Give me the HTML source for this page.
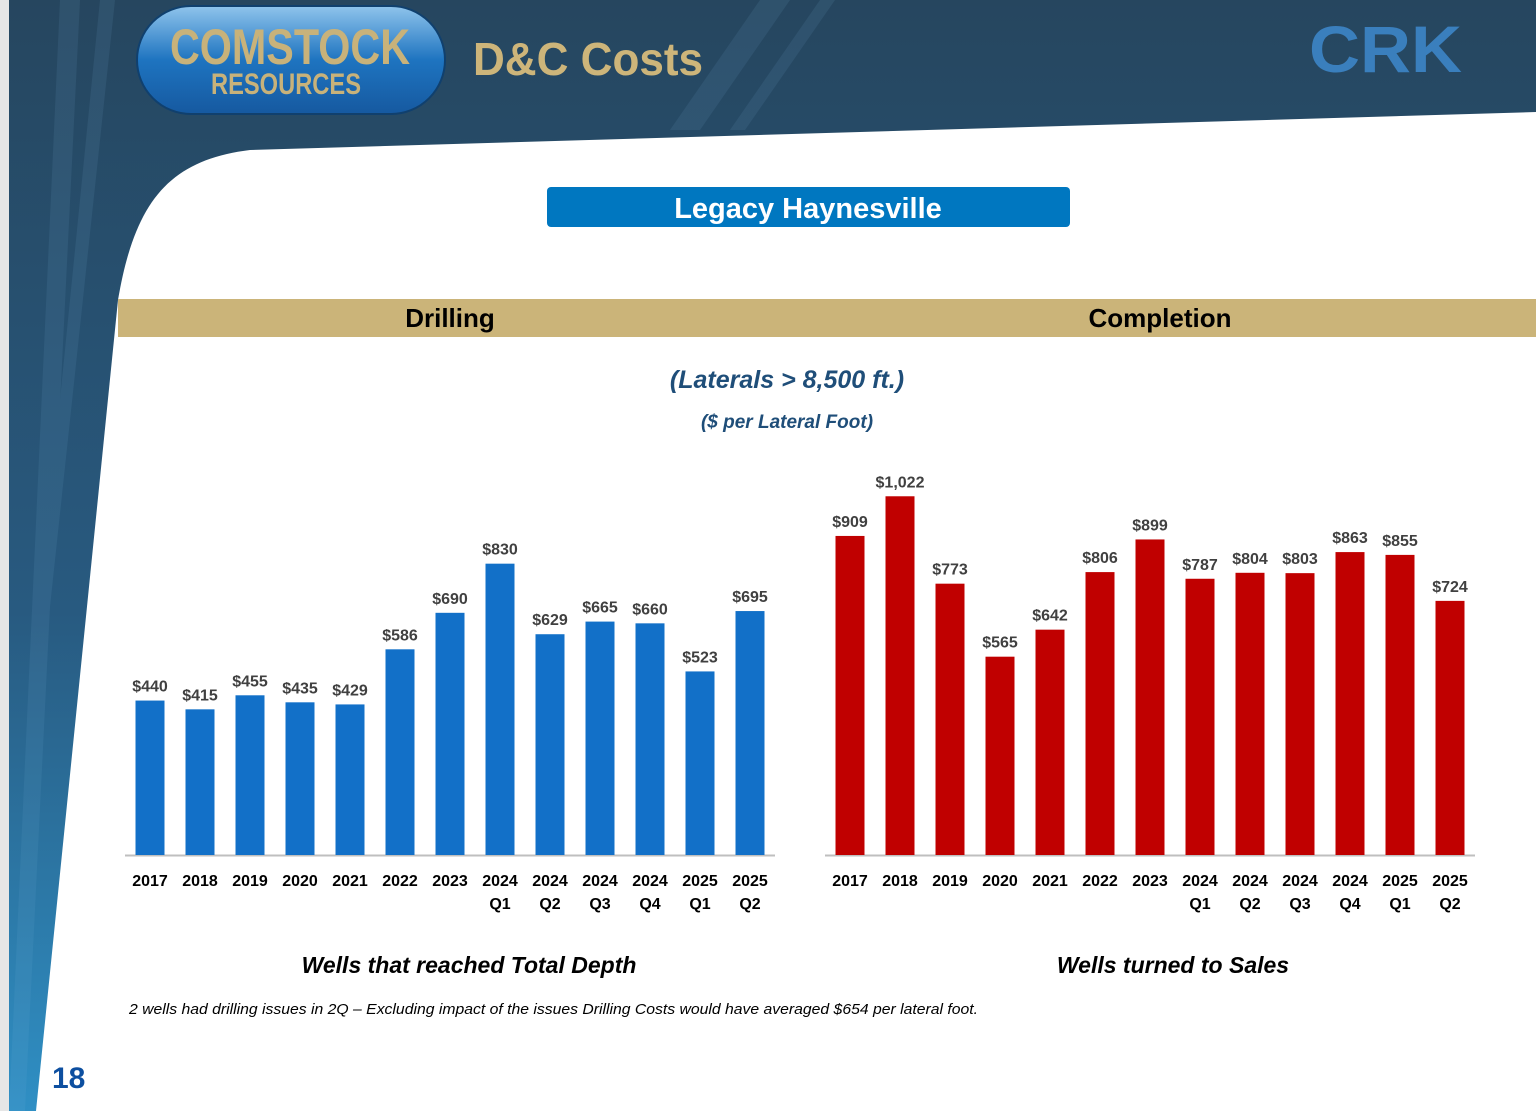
<!DOCTYPE html>
<html><head><meta charset="utf-8"><style>
html,body{margin:0;padding:0;width:1536px;height:1111px;overflow:hidden;background:#fff}
svg{display:block}
text{font-family:"Liberation Sans",sans-serif}
</style></head><body>
<svg id="s" width="1536" height="1111" viewBox="0 0 1536 1111" xmlns="http://www.w3.org/2000/svg">
<defs>
<linearGradient id="bg" x1="0" y1="0" x2="0" y2="1">
<stop offset="0" stop-color="#26465f"/><stop offset="0.55" stop-color="#285a80"/><stop offset="1" stop-color="#2f8fc4"/>
</linearGradient>
<linearGradient id="logo" x1="0" y1="0" x2="0" y2="1">
<stop offset="0" stop-color="#8fc4ec"/><stop offset="0.5" stop-color="#1e74c0"/><stop offset="1" stop-color="#1659a0"/>
</linearGradient>
</defs>
<rect x="0" y="0" width="9" height="1111" fill="#e6e6e6"/>
<rect x="9" y="0" width="1527" height="1111" fill="url(#bg)"/>
<g opacity="0.1" fill="#7fb8e0">
<polygon points="60,0 80,0 25,1111 9,1111"/>
<polygon points="100,0 115,0 40,700 30,700"/>
<polygon points="760,0 790,0 700,130 670,130"/>
<polygon points="820,0 835,0 745,130 730,130"/>
</g>
<path d="M36,1111 L118,300 C135,200 170,160 250,150 L1536,112 L1536,1111 Z" fill="#fff"/>
<g>
<rect x="137" y="6" width="308" height="108" rx="54" fill="url(#logo)" stroke="#10406e" stroke-width="2"/>
<text x="290" y="64" text-anchor="middle" font-family="Liberation Serif,serif" font-weight="bold" font-size="50" fill="#c8b27a" textLength="240" lengthAdjust="spacingAndGlyphs">COMSTOCK</text>
<text x="286" y="94" text-anchor="middle" font-family="Liberation Serif,serif" font-weight="bold" font-size="30" fill="#c8b27a" textLength="150" lengthAdjust="spacingAndGlyphs">RESOURCES</text>
</g>
<text x="473" y="75" font-size="46" font-weight="bold" fill="#cdb57a" textLength="230" lengthAdjust="spacingAndGlyphs">D&amp;C Costs</text>
<text x="1309" y="72" font-size="66" font-weight="bold" fill="#3a7fbd" textLength="153" lengthAdjust="spacingAndGlyphs">CRK</text>
<rect x="547" y="187" width="523" height="40" rx="4" fill="#0077c0"/>
<text x="808" y="218" text-anchor="middle" font-size="29" font-weight="bold" fill="#fff">Legacy Haynesville</text>
<rect x="118" y="299" width="1418" height="38" fill="#cbb479"/>
<text x="450" y="327" text-anchor="middle" font-size="26" font-weight="bold" fill="#000">Drilling</text>
<text x="1160" y="327" text-anchor="middle" font-size="26" font-weight="bold" fill="#000">Completion</text>
<text x="787" y="388" text-anchor="middle" font-size="25" font-weight="bold" font-style="italic" fill="#1f4e79">(Laterals &gt; 8,500 ft.)</text>
<text x="787" y="428" text-anchor="middle" font-size="19" font-weight="bold" font-style="italic" fill="#1f4e79">($ per Lateral Foot)</text>
<g id="charts"></g>
<text x="469" y="973" text-anchor="middle" font-size="23" font-weight="bold" font-style="italic" fill="#000">Wells that reached Total Depth</text>
<text x="1173" y="973" text-anchor="middle" font-size="23" font-weight="bold" font-style="italic" fill="#000">Wells turned to Sales</text>
<text x="129" y="1014" font-size="15" font-style="italic" fill="#000" textLength="849" lengthAdjust="spacingAndGlyphs">2 wells had drilling issues in 2Q – Excluding impact of the issues Drilling Costs would have averaged $654 per lateral foot.</text>
<text x="52" y="1088" font-size="30" font-weight="bold" fill="#0d4fa0">18</text>
</svg>
<script>
const categories = ["2017","2018","2019","2020","2021","2022","2023","2024|Q1","2024|Q2","2024|Q3","2024|Q4","2025|Q1","2025|Q2"];
const drillingValues = [440,415,455,435,429,586,690,830,629,665,660,523,695];
const completionValues = [909,1022,773,565,642,806,899,787,804,803,863,855,724];
const drillingLabels = ["$440","$415","$455","$435","$429","$586","$690","$830","$629","$665","$660","$523","$695"];
const completionLabels = ["$909","$1,022","$773","$565","$642","$806","$899","$787","$804","$803","$863","$855","$724"];

const NS = "http://www.w3.org/2000/svg";
const g = document.getElementById("charts");
const baseY = 855, pxPerUnit = 0.351, step = 50, barW = 29;
function yScale(v){ return baseY - v * pxPerUnit; }
function mk(tag, attrs){ const e = document.createElementNS(NS, tag); for (const k in attrs) e.setAttribute(k, attrs[k]); g.appendChild(e); return e; }
function drawChart(x0, values, labels, color, prefix){
  const axis = mk("line", {x1:x0-25, x2:x0-25+step*categories.length, y1:baseY+0.5, y2:baseY+0.5, stroke:"#bfbfbf", "stroke-width":2});
  
  
  values.forEach((v, i) => {
    const cx = x0 + step * i;
    const y = yScale(v);
    const r = mk("rect", {x:cx-barW/2, y:y, width:barW, height:baseY-y, fill:color});
    
    
    const t = mk("text", {x:cx, y:y-9, "text-anchor":"middle", "font-size":16, "font-weight":"bold", fill:"#404040"});
    t.textContent = labels[i];
    
    
    const parts = categories[i].split("|");
    parts.forEach((p, j) => {
      const c = mk("text", {x:cx, y:886 + 23*j, "text-anchor":"middle", "font-size":16, "font-weight":"bold", fill:"#000"});
      c.textContent = p;
      
      
    });
  });
}
drawChart(150, drillingValues, drillingLabels, "#1270c8", "drilling");
drawChart(850, completionValues, completionLabels, "#c00000", "completion");
</script>
</body></html>
